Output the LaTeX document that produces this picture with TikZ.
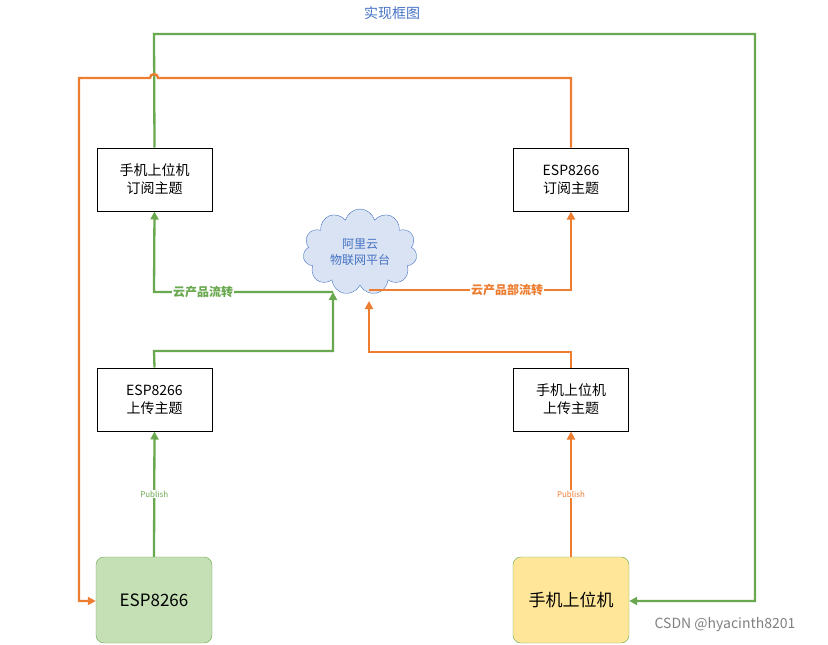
\documentclass[tikz,border=0pt]{standalone}
\usepackage{fontspec}
\setmainfont{Noto Sans CJK SC}
\usetikzlibrary{shapes.symbols,arrows.meta}
\definecolor{gr}{HTML}{6AA84F}
\definecolor{og}{HTML}{ED7D31}
\definecolor{bl}{HTML}{4472C4}
\definecolor{espf}{HTML}{C5E0B4}
\definecolor{phf}{HTML}{FFE699}
\begin{document}
\begin{tikzpicture}[x=1pt,y=-1pt,
 box/.style={draw,line width=1pt,minimum width=115pt,minimum height=63pt,align=center,font=\fontsize{14}{18}\selectfont},
 dev/.style={draw=gr,rounded corners=8pt,minimum width=116pt,minimum height=86pt,font=\fontsize{17}{20}\selectfont},
 gl/.style={draw=gr,line width=2.3pt,-{Triangle[length=8pt,width=8pt]}},
 ol/.style={draw=og,line width=2.3pt,-{Triangle[length=8pt,width=8pt]}},
 lab/.style={fill=white,inner sep=1pt,font=\bfseries\fontsize{12}{14}\selectfont}]
\useasboundingbox (0,0) rectangle (828,645);
\node[box] (ls) at (154.5,179.5) {手机上位机\\订阅主题};
\node[box] (rs) at (571,179.5) {ESP8266\\订阅主题};
\node[box] (lu) at (154.5,399.5) {ESP8266\\上传主题};
\node[box] (ru) at (571,399.5) {手机上位机\\上传主题};
\node[dev,fill=espf] (esp) at (154,600) {ESP8266};
\node[dev,fill=phf] (ph) at (571,600) {手机上位机};
\node[cloud,cloud puffs=11,aspect=1.4,draw=bl,fill=bl!20!white,minimum width=114pt,minimum height=86pt,text=bl,align=center,font=\fontsize{12}{16}\selectfont] (cl) at (360,252) {阿里云\\物联网平台};
\node[text=bl,font=\fontsize{14}{16}\selectfont] (t) at (392,13) {实现框图};
\node[text=gray,font=\fontsize{14}{16}\selectfont] (w) at (725,625) {CSDN @hyacinth8201};
\coordinate (g1) at (333,292);
\coordinate (o1) at (369,290);
\draw[gl] (ls.north) -- (154,34) -- (755,34) -- (755,601) -- (ph.east |- 0,601);
\draw[ol] (rs.north) -- (571,78) -- (158,78) arc (0:-180:4) -- (79,78) -- (79,601) -- (esp.west |- 0,601);
\draw[gl] (g1) -- (154,292) -- (ls.south);
\node[lab,text=gr] (gt) at (203,292) {云产品流转};
\draw[gl] (lu.north) -- (154,351) -- (333,351) -- (g1);
\draw[ol] (ru.north) -- (571,352) -- (369,352) -- (369,301);
\draw[ol] (o1) -- (571,290) -- (rs.south);
\node[lab,text=og] (ot) at (507,290) {云产品部流转};
\draw[gl] (esp.north) -- (lu.south) node[midway,fill=white,text=gr,font=\fontsize{8}{9}\selectfont,inner sep=1pt] {Publish};
\draw[ol] (ph.north) -- (ru.south) node[midway,fill=white,text=og,font=\fontsize{8}{9}\selectfont,inner sep=1pt] {Publish};
\end{tikzpicture}
\end{document}
